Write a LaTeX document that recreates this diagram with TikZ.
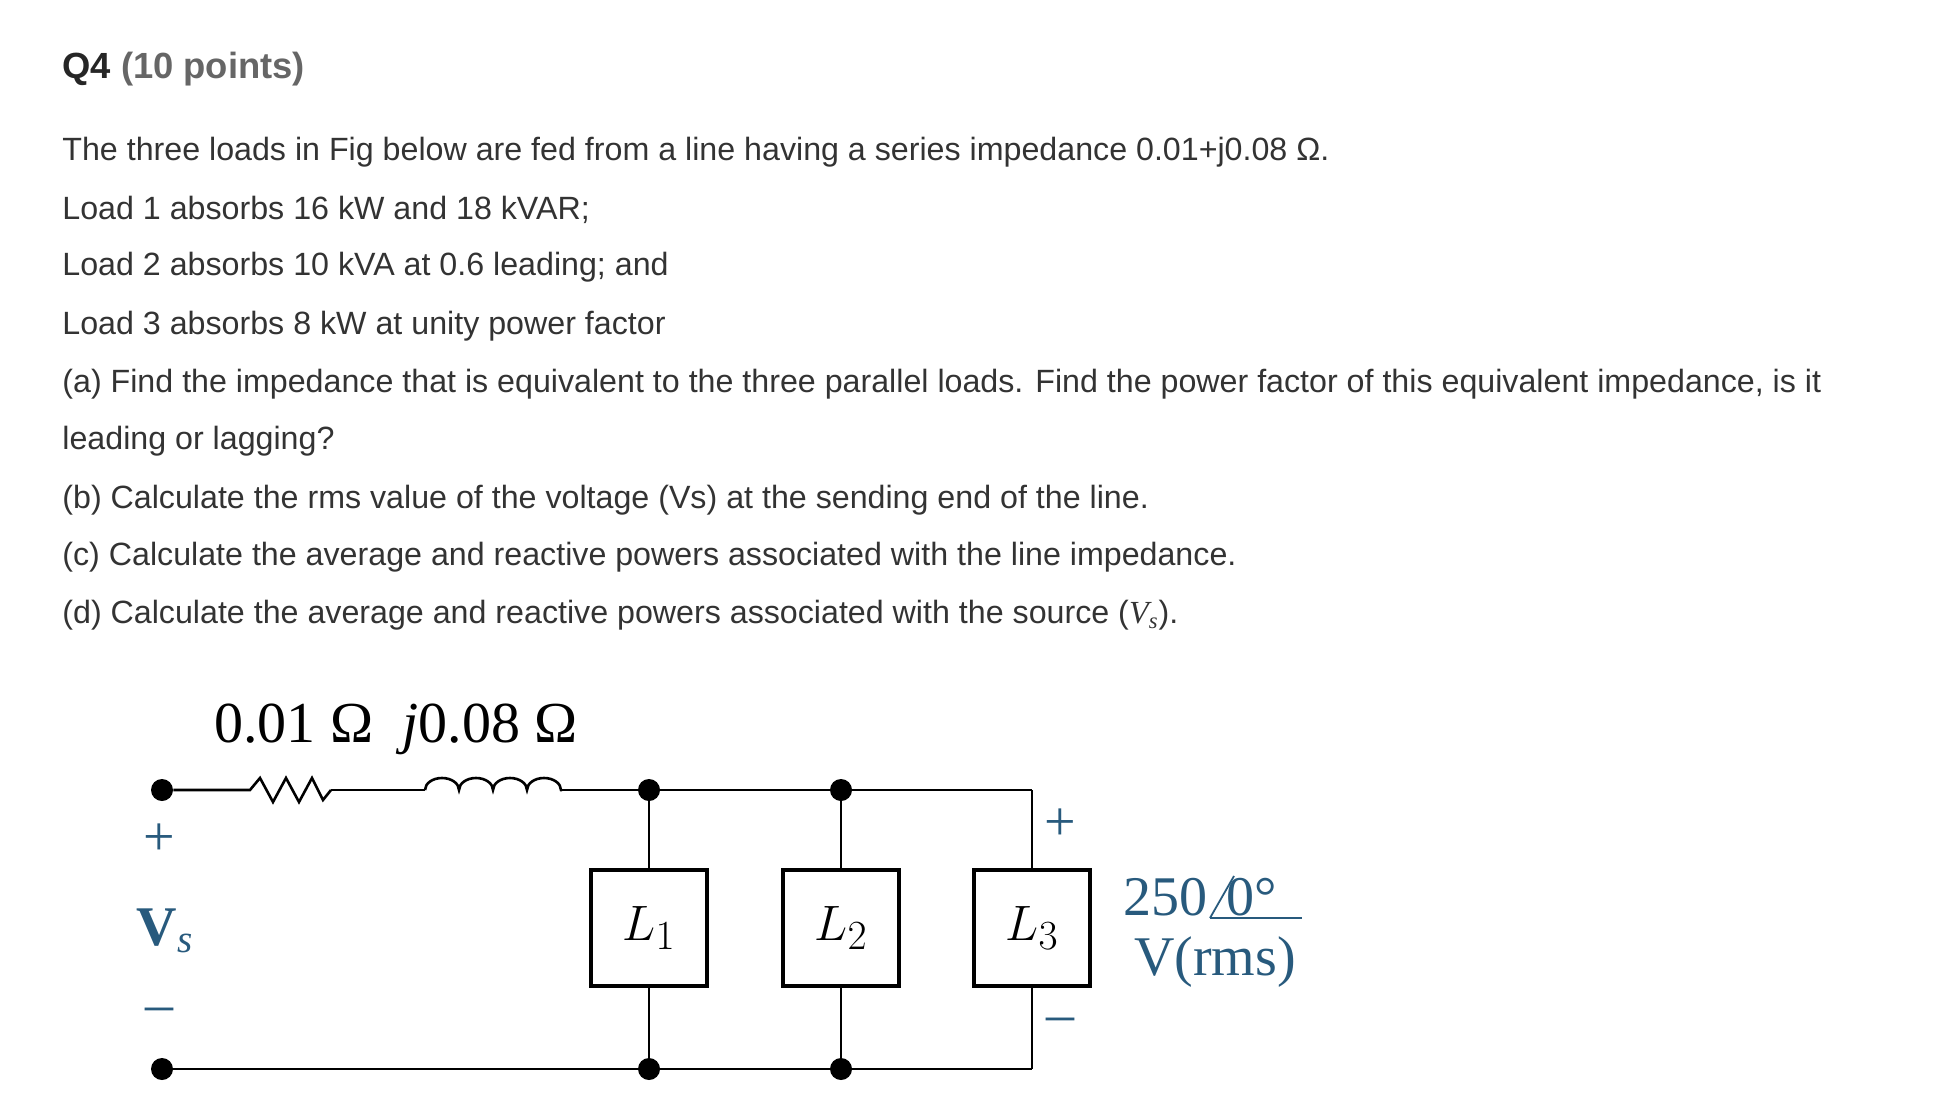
\documentclass[tikz,border=0pt]{standalone}
\usepackage{fontspec}
\setmainfont{Liberation Sans}
\newfontfamily\circfont{Liberation Serif}
\definecolor{labblue}{RGB}{40,90,125}
\begin{document}
\begin{tikzpicture}[x=0.5pt,y=-0.5pt,
  txt/.style={anchor=west,inner sep=0pt,text=black!80,font=\fontsize{16.1}{19}\selectfont},
  wire/.style={line width=1.3pt},
  thin/.style={line width=0.9pt},
  dot/.style={circle,fill=black,inner sep=0pt,minimum size=11pt},
  loadbox/.style={draw,line width=1.6pt,minimum width=58pt,minimum height=58pt,inner sep=0pt,font=\circfont\fontsize{28}{30}\selectfont},
  clab/.style={inner sep=0pt,font=\circfont\fontsize{29}{31}\selectfont},
  blab/.style={inner sep=0pt,text=labblue,font=\circfont\fontsize{28}{30}\selectfont}]
\useasboundingbox (0,0) rectangle (1952,1118);
\node[txt,font=\bfseries\fontsize{18.2}{21}\selectfont] (title) at (62,69) {\textcolor{black!85}{Q4} \textcolor{black!60}{(10 points)}};
\node[txt] (t1) at (62,152) {The three loads in Fig below are fed from a line having a series impedance 0.01+j0.08 Ω.};
\node[txt] (t2) at (62,210) {Load 1 absorbs 16 kW and 18 kVAR;};
\node[txt] (t3) at (62,267) {Load 2 absorbs 10 kVA at 0.6 leading; and};
\node[txt] (t4) at (62,326) {Load 3 absorbs 8 kW at unity power factor};
\node[txt] (t5) at (62,384) {(a) Find the impedance that is equivalent to the three parallel loads. Find the power factor of this equivalent impedance, is it};
\node[txt] (t6) at (62,441) {leading or lagging?};
\node[txt] (t7) at (62,500) {(b) Calculate the rms value of the voltage (Vs) at the sending end of the line.};
\node[txt] (t8) at (62,557) {(c) Calculate the average and reactive powers associated with the line impedance.};
\node[txt] (t9) at (62,615) {(d) Calculate the average and reactive powers associated with the source ({\circfont\itshape V\textsubscript{s}}).};
% circuit
\node[dot] (a) at (162,790) {};
\node[dot] (b) at (162,1069) {};
\node[dot] (j1) at (649,790) {};
\node[dot] (j2) at (841,790) {};
\node[dot] (k1) at (649,1069) {};
\node[dot] (k2) at (841,1069) {};
\coordinate (tr) at (1032,790);
\coordinate (br) at (1032,1069);
\coordinate (r0) at (250,790);
\coordinate (r1) at (331,790);
\coordinate (i0) at (425,790);
\coordinate (i1) at (562,790);
\draw[wire] (a) -- (r0) -- ++(10,-12) -- ++(13,24) -- ++(13,-24) -- ++(13,24) -- ++(13,-24) -- ++(11,22) -- (r1);
\draw[wire] (r1) -- (i0);
\draw[wire] (i0) arc[start angle=180,end angle=0,x radius=8.5pt,y radius=6pt]
  arc[start angle=180,end angle=0,x radius=8.5pt,y radius=6pt]
  arc[start angle=180,end angle=0,x radius=8.5pt,y radius=6pt]
  arc[start angle=180,end angle=0,x radius=8.5pt,y radius=6pt] -- (i1);
\draw[wire] (i1) -- (j1) -- (j2) -- (tr);
\draw[wire] (b) -- (k1) -- (k2) -- (br);
\node[loadbox] (L1) at (649,928) {$L_1$};
\node[loadbox] (L2) at (841,928) {$L_2$};
\node[loadbox] (L3) at (1032,928) {$L_3$};
\draw[thin] (j1) -- (L1.north); \draw[thin] (L1.south) -- (k1);
\draw[thin] (j2) -- (L2.north); \draw[thin] (L2.south) -- (k2);
\draw[thin] (tr) -- (L3.north); \draw[thin] (L3.south) -- (br);
\node[clab] (lbl) at (396,729) {0.01 Ω\ \ \textit{j}0.08 Ω};
\node[blab] (vp) at (159,840) {+};
\node[blab] (vs) at (165,931) {\textbf{V}\textsubscript{\textit{s}}};
\node[blab] (vm) at (159,1015) {–};
\node[blab] (lp) at (1060,825) {+};
\node[blab] (lm) at (1060,1025) {–};
\node[blab,anchor=east] (v250) at (1208,897) {250};
\node[blab,anchor=west] (deg) at (1226,897) {0°};
\draw[labblue,line width=0.9pt] (1210,918) -- (1234,876);
\draw[labblue,line width=0.9pt] (1210,918) -- (1302,918);
\node[blab] (vr) at (1215,962) {V(rms)};
\end{tikzpicture}
\end{document}
